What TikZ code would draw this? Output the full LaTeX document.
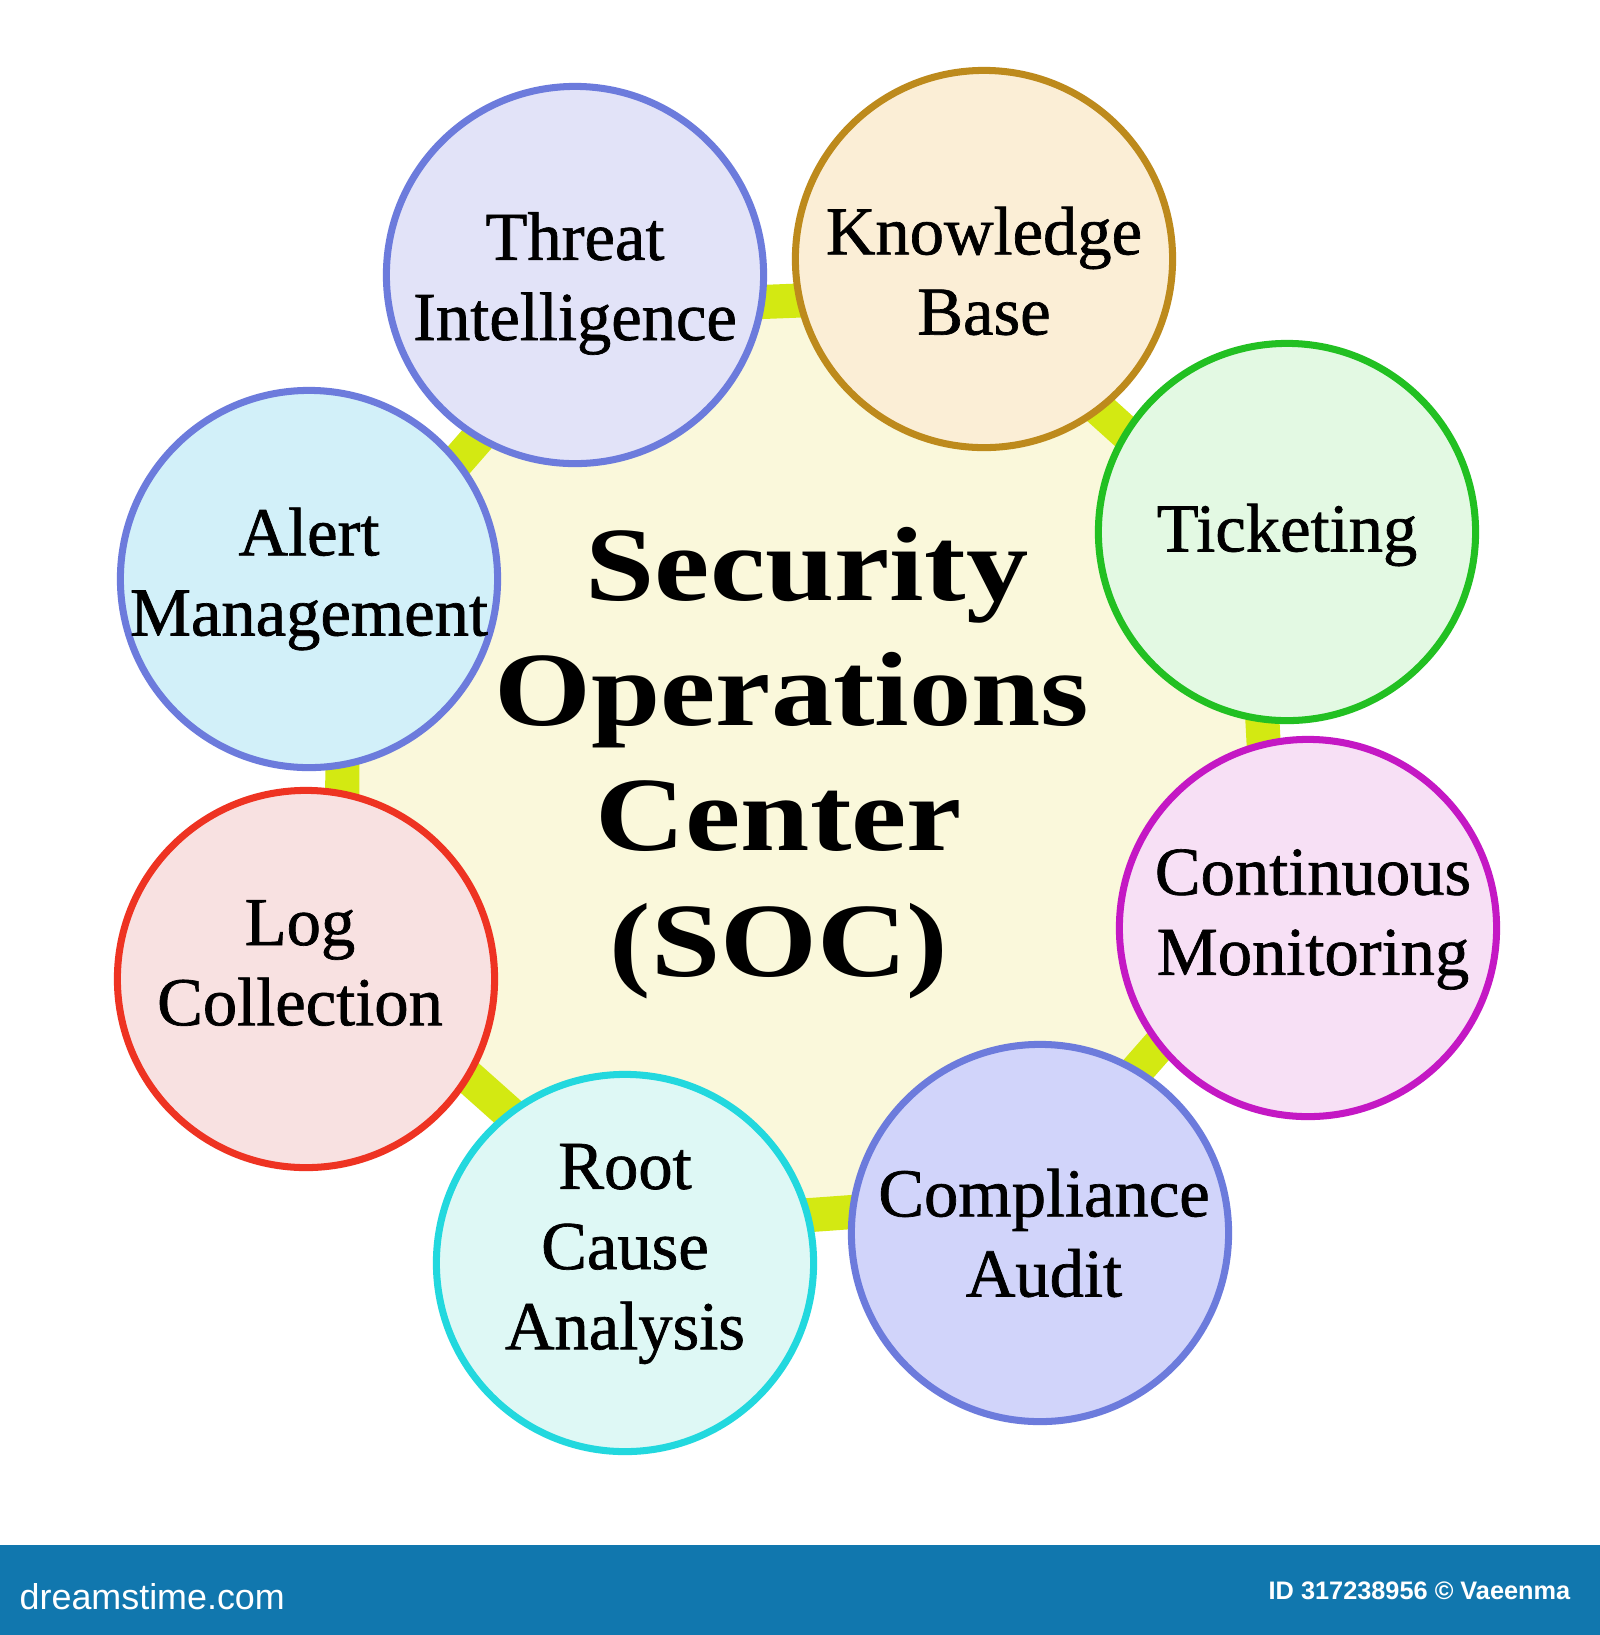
\documentclass[tikz,border=0pt]{standalone}
\usepackage{fontspec}
\setmainfont{Liberation Serif}
\newfontfamily\partfont[FakeBold=1]{Liberation Serif}
\newfontfamily\socfont[FakeStretch=1.18]{Liberation Serif}
\newfontfamily\sitefont{Liberation Sans}
\usetikzlibrary{calc,backgrounds}
\definecolor{bandgreen}{HTML}{D3E912}
\definecolor{socfill}{HTML}{FAF8DB}
\definecolor{violetline}{HTML}{6C7BDC}
\definecolor{threatfill}{HTML}{E2E3F8}
\definecolor{goldline}{HTML}{BD8A1C}
\definecolor{knowfill}{HTML}{FBEED6}
\definecolor{greenline}{HTML}{22C022}
\definecolor{ticketfill}{HTML}{E3F9E3}
\definecolor{magentaline}{HTML}{C418C4}
\definecolor{monitorfill}{HTML}{F7E0F5}
\definecolor{auditfill}{HTML}{D1D4FA}
\definecolor{cyanline}{HTML}{22D8DE}
\definecolor{rootfill}{HTML}{DEF8F5}
\definecolor{redline}{HTML}{EE3322}
\definecolor{logfill}{HTML}{F8E1E1}
\definecolor{alertfill}{HTML}{D2F0F9}
\definecolor{bannerblue}{HTML}{1177AE}
\begin{document}
\begin{tikzpicture}[x=0.01cm,y=-0.01cm,
	part/.style={draw, circle, line width=2pt, minimum size=3.77cm, inner sep=0pt},
	parttext/.style={align=center, inner sep=0pt, font=\partfont\fontsize{19.5}{22.8}\selectfont},
	]
	\useasboundingbox (0,0) rectangle (1600,1635);
	\node[part, draw=violetline, fill=threatfill] (ti) at (575,275) {};
	\node[part, draw=goldline, fill=knowfill] (kb) at (984,259) {};
	\node[part, draw=greenline, fill=ticketfill] (tk) at (1287,532) {};
	\node[part, draw=magentaline, fill=monitorfill] (cm) at (1308,928) {};
	\node[part, draw=violetline, fill=auditfill] (ca) at (1040,1233) {};
	\node[part, draw=cyanline, fill=rootfill] (rc) at (625,1263) {};
	\node[part, draw=redline, fill=logfill] (lc) at (306,979) {};
	\node[part, draw=violetline, fill=alertfill] (am) at (309,579) {};
	
	\node[parttext, yshift=-0.085cm] (tit) at (ti) {Threat\\Intelligence};
	\node[parttext, yshift=-0.12cm] (kbt) at (kb) {Knowledge\\Base};
	\node[parttext, yshift=-0.03cm] (tkt) at (tk) {Ticketing};
	\node[parttext, yshift=0.085cm, xshift=0.05cm] (cmt) at (cm) {Continuous\\Monitoring};
	\node[parttext, xshift=0.04cm] (cat) at (ca) {Compliance\\Audit};
	\node[parttext, yshift=0.09cm] (rct) at (rc) {Root\\Cause\\Analysis};
	\node[parttext, yshift=0.16cm, xshift=-0.06cm] (lct) at (lc) {Log\\Collection};
	\node[parttext] (amt) at (am) {Alert\\Management};
	
	\coordinate (mid) at (805,756);
	\begin{scope}[on background layer]
		\fill[white] (0,0) rectangle (1600,1635);
		\draw[bandgreen, line width=9.7pt, fill=socfill, line join=round] ($(mid)!0.93!(ti.center)$) -- ($(mid)!0.93!(kb.center)$) -- ($(mid)!0.93!(tk.center)$) -- ($(mid)!0.93!(cm.center)$) -- ($(mid)!0.93!(ca.center)$) -- ($(mid)!0.93!(rc.center)$) -- ($(mid)!0.93!(lc.center)$) -- ($(mid)!0.93!(am.center)$) -- cycle;
	\end{scope}
	\node[font=\socfont\bfseries\fontsize{30}{35.6}\selectfont, align=center] (soc) at (792,763) {\hspace*{0.3cm}Security\\Operations\\Center\hspace*{0.26cm}\mbox{}\\(SOC)\hspace*{0.26cm}};
	
	\fill[bannerblue] (0,1545) rectangle (1600,1635);
	\node[white, anchor=base west, inner sep=0pt, font=\sitefont\fontsize{10.2}{12}\selectfont] (site) at (19,1609) {dreamstime.com};
	\node[white, anchor=base east, inner sep=0pt, font=\sitefont\bfseries\fontsize{7.2}{9}\selectfont] (imgid) at (1571,1599) {ID 317238956 © Vaeenma};
\end{tikzpicture}
\end{document}
